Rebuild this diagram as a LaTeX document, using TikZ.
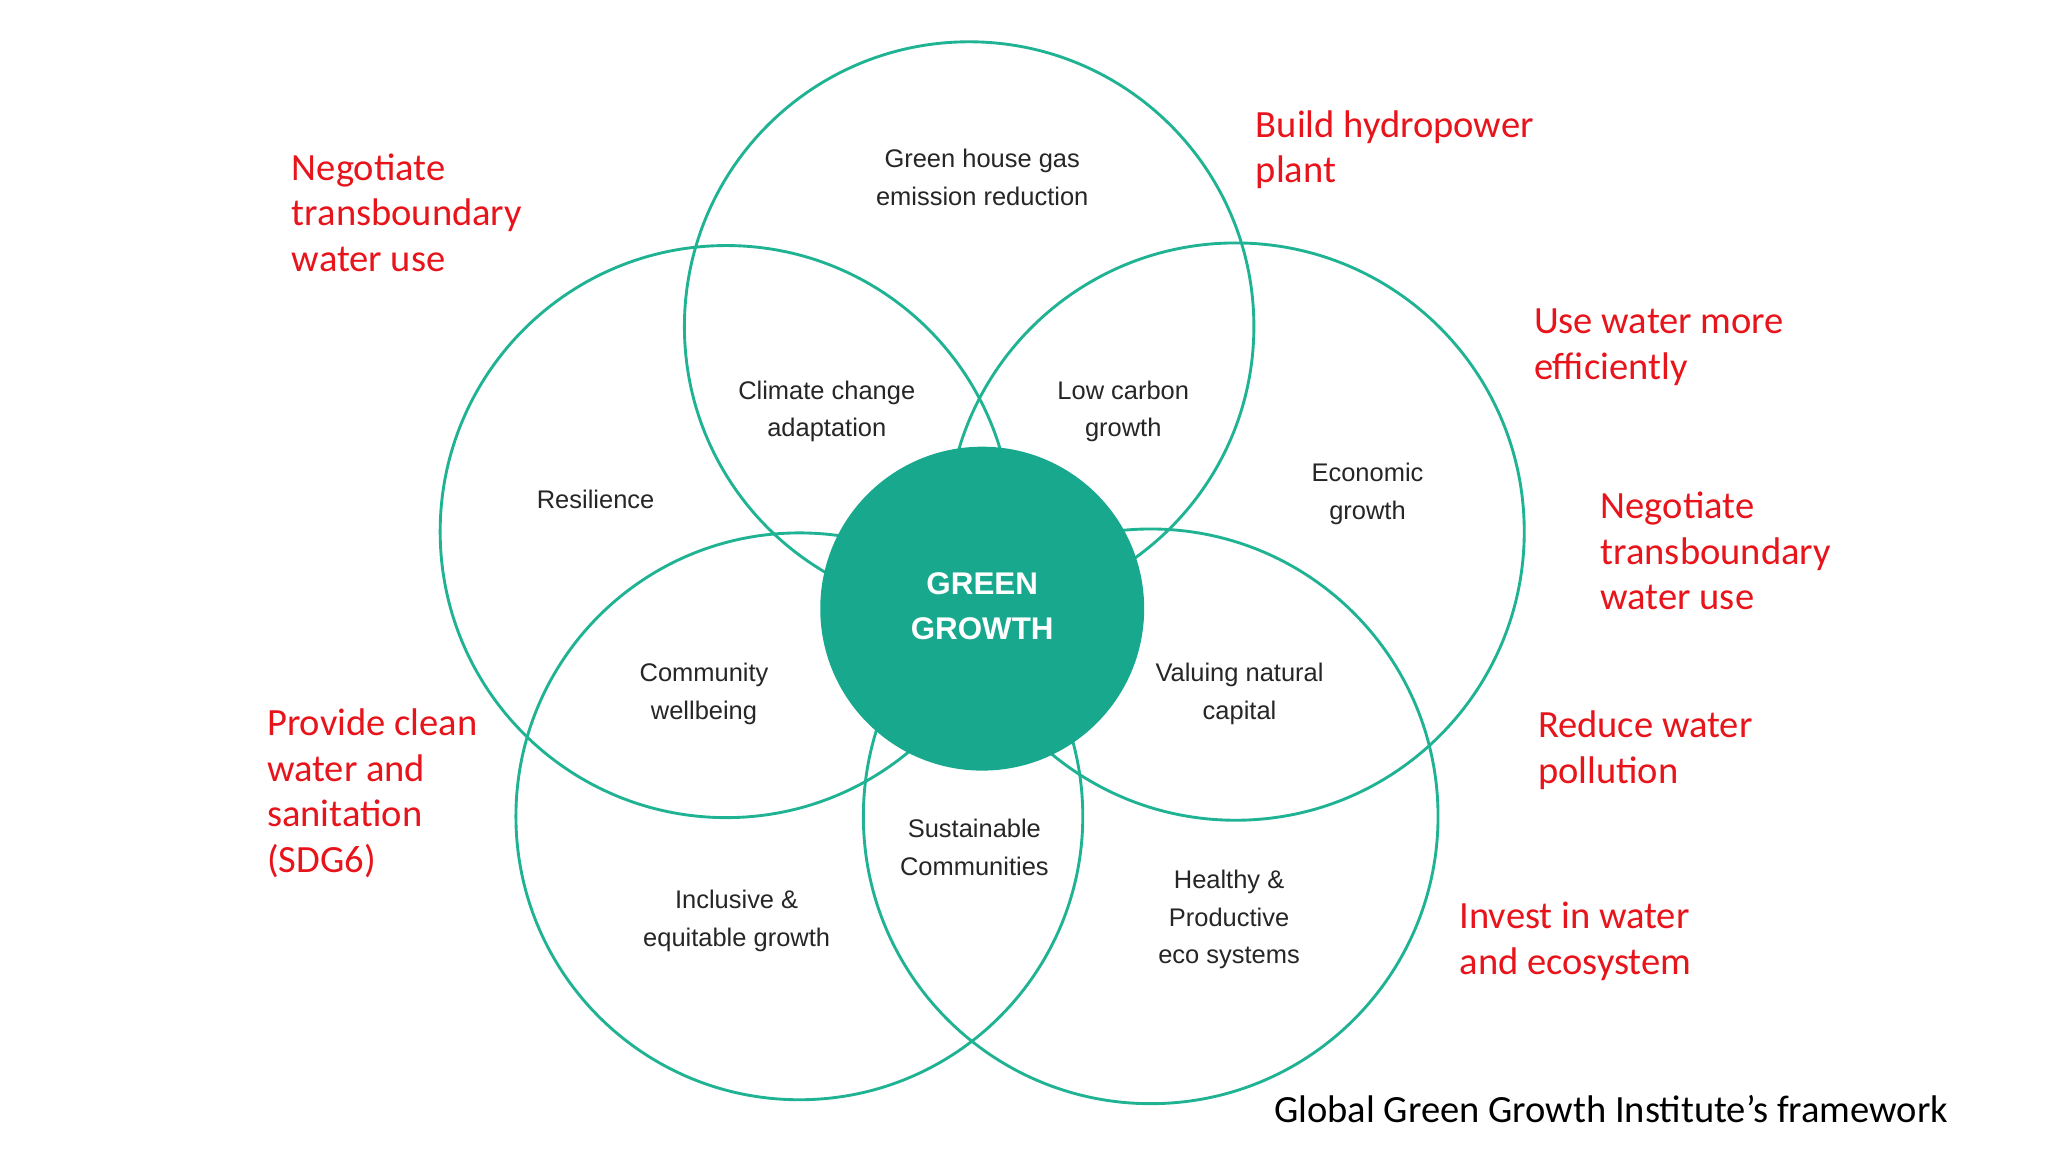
\documentclass[tikz,border=0pt]{standalone}
\usepackage{fontspec}
\setmainfont{Liberation Sans}
\newfontfamily\calib{Carlito}
\definecolor{gg}{HTML}{1FB393}
\definecolor{ggf}{HTML}{17A88D}
\definecolor{rd}{HTML}{E8141B}
\begin{document}
\begin{tikzpicture}[x=1pt,y=-1pt,
  ring/.style={draw=gg,line width=2.2pt},
  lbl/.style={align=center,font=\fontsize{19.5}{29}\selectfont,text=black!85},
  red/.style={align=left,anchor=north west,font=\calib\fontsize{29.5}{35}\selectfont,text=rd}]
\useasboundingbox (0,0) rectangle (1568,882);
\fill[white] (0,0) rectangle (1568,882);
\draw[ring] (742,250) circle (218);
\draw[ring] (556,407) circle (219);
\draw[ring] (946,407) circle (221);
\draw[ring] (612,625) circle (217);
\draw[ring] (881,625) circle (220);
\fill[ggf] (752,466) circle (124);
\node[align=center,text=white,font=\bfseries\fontsize{24}{34}\selectfont] (core) at (752,464) {GREEN\\GROWTH};
\node[lbl] (a) at (752,136) {Green house gas\\emission reduction};
\node[lbl] (b) at (633,315) {Climate change\\adaptation};
\node[lbl] (c) at (860,315) {Low carbon\\growth};
\node[lbl] (d) at (456,382) {Resilience};
\node[lbl] (e) at (1047,378) {Economic\\growth};
\node[lbl] (f) at (539,531) {Community\\wellbeing};
\node[lbl] (g) at (949,531) {Valuing natural\\capital};
\node[lbl] (h) at (746,649) {Sustainable\\Communities};
\node[lbl] (i) at (564,705) {Inclusive \&\\equitable growth};
\node[lbl] (j) at (941,704) {Healthy \&\\Productive\\eco systems};
\node[red] (r1) at (220,114) {Negotiate\\transboundary\\water use};
\node[red] (r2) at (958,81) {Build hydropower\\plant};
\node[red] (r3) at (1171,233) {Use water more\\efficiently};
\node[red] (r4) at (1222,373) {Negotiate\\transboundary\\water use};
\node[red] (r5) at (1174,541) {Reduce water\\pollution};
\node[red] (r6) at (1114,687) {Invest in water\\and ecosystem};
\node[red] (r7) at (201,539) {Provide clean\\water and\\sanitation\\(SDG6)};
\node[anchor=west,font=\calib\fontsize{29.5}{32}\selectfont] (cap) at (972,849) {Global Green Growth Institute’s framework};
\end{tikzpicture}
\end{document}
